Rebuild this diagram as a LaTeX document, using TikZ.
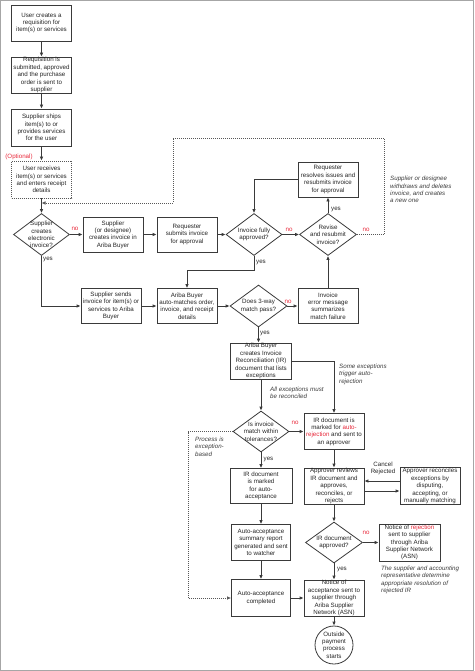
\documentclass[tikz,border=0pt]{standalone}
\usepackage{fontspec}
\setmainfont{Liberation Sans}
\usetikzlibrary{arrows.meta,shapes.geometric,calc}
\definecolor{linec}{HTML}{3A3A3A}
\definecolor{txtc}{HTML}{262626}
\definecolor{redc}{HTML}{E8283A}
\definecolor{notec}{HTML}{3C3C3C}
\begin{document}
\begin{tikzpicture}[x=1pt,y=-1pt,
 every node/.style={font=\fontsize{6.2}{7.4}\selectfont, text=txtc},
 box/.style={draw=linec, line width=0.8pt, fill=white, rectangle, minimum width=60pt, minimum height=36pt, inner sep=0pt},
 dbox/.style={box, draw=linec!85, dash pattern=on 0.8pt off 1.2pt},
 dia/.style={draw=linec, line width=0.8pt, fill=white, diamond, minimum width=56pt, minimum height=42pt, inner sep=0pt},
 circ/.style={draw=linec, line width=0.8pt, fill=white, circle, minimum size=38pt, inner sep=0pt},
 t/.style={align=center, inner sep=0pt},
 arr/.style={draw=linec, line width=0.8pt, -{Latex[length=4pt,width=3.6pt]}},
 dotarr/.style={draw=linec!85, line width=0.7pt, dash pattern=on 0.8pt off 1.2pt, -{Latex[length=4pt,width=3.6pt]}},
 rtag/.style={text=redc, inner sep=0pt},
 ytag/.style={inner sep=0pt},
 note/.style={font=\fontsize{6.2}{7.4}\selectfont\itshape, align=left, anchor=west, inner sep=0pt, text=notec}
]
\useasboundingbox (0,0) rectangle (474,671);
\draw[gray!70, line width=0.6pt] (0.5,0.5) rectangle (473.5,670.5);

% column 1
\node[box, label={[t]center:{User creates a\\requisition for\\item(s) or services}}] (b1) at (41.5,23) {};
\node[box, label={[t]center:{Requisition is\\submitted, approved\\and the purchase\\order is sent to\\supplier}}] (b2) at (41.5,75) {};
\node[box, minimum height=37pt, label={[t]center:{Supplier ships\\item(s) to or\\provides services\\for the user}}] (b3) at (41.5,127.5) {};
\node[dbox, minimum height=37pt, label={[t]center:{User receives\\item(s) or services\\and enters receipt\\details}}] (b4) at (41.5,179.5) {};
\node[rtag] (opt) at (19,157) {(Optional)};
\node[dia, label={[t]center:{Supplier\\creates\\electronic\\invoice?}}] (d1) at (41.5,234.5) {};
\coordinate (j1) at (41.5,203);

% row 2
\node[box, minimum height=35pt, label={[t]center:{Supplier\\(or designee)\\creates invoice in\\Ariba Buyer}}] (s1) at (113,234.5) {};
\node[box, minimum height=35pt, label={[t]center:{Requester\\submits invoice\\for approval}}] (s2) at (187,234.5) {};
\node[dia, label={[t]center:{Invoice fully\\approved?}}] (d2) at (254,234.5) {};
\node[dia, minimum width=57pt, label={[t]center:{Revise\\and resubmit\\invoice?}}] (d3) at (328,234.5) {};
\node[box, minimum height=35pt, label={[t]center:{Requester\\resolves issues and\\resubmits invoice\\for approval}}] (res) at (328,179.5) {};

% row 3
\node[box, minimum height=35pt, label={[t]center:{Supplier sends\\invoice for item(s) or\\services to Ariba\\Buyer}}] (ss) at (111,306) {};
\node[box, minimum height=35pt, label={[t]center:{Ariba Buyer\\auto-matches order,\\invoice, and receipt\\details}}] (am) at (187,306) {};
\node[dia, minimum width=57pt, label={[t]center:{Does 3-way\\match pass?}}] (d4) at (258.5,306) {};
\node[box, minimum height=35pt, label={[t]center:{Invoice\\error message\\summarizes\\match failure}}] (err) at (328,306) {};

% IR part
\node[box, minimum width=61pt, label={[t]center:{Ariba Buyer\\creates Invoice\\Reconciliation (IR)\\document that lists\\exceptions}}] (ir) at (261,361) {};
\node[dia, minimum height=41pt, label={[t]center:{Is invoice\\match within\\tolerances?}}] (d5) at (261,431.5) {};
\node[box, label={[t]center:{IR document is\\marked for \textcolor{redc}{auto-}\\\textcolor{redc}{rejection} and sent to\\an approver}}] (arej) at (334,431.5) {};
\node[box, minimum width=62pt, minimum height=35pt, label={[t]center:{IR document\\is marked\\for auto-\\acceptance}}] (aacc) at (261,486) {};
\node[box, label={[t]center:{Approver reviews\\IR document and\\approves,\\reconciles, or\\rejects}}] (appr) at (334,486) {};
\node[box, minimum height=37pt, label={[t]center:{Approver reconciles\\exceptions by\\disputing,\\accepting, or\\manually matching}}] (recon) at (430,486) {};
\node[box, minimum width=59pt, label={[t]center:{Auto-acceptance\\summary report\\generated and sent\\to watcher}}] (summ) at (261,542.5) {};
\node[dia, minimum width=57pt, minimum height=41pt, label={[t]center:{IR document\\approved?}}] (d6) at (334,542.5) {};
\node[box, minimum width=61pt, minimum height=37pt, label={[t]center:{Notice of \textcolor{redc}{rejection}\\sent to supplier\\through Ariba\\Supplier Network\\(ASN)}}] (nrej) at (409.5,542.5) {};
\node[box, minimum width=59pt, minimum height=37pt, label={[t]center:{Auto-acceptance\\completed}}] (comp) at (261,598) {};
\node[box, label={[t]center:{Notice of\\acceptance sent to\\supplier through\\Ariba Supplier\\Network (ASN)}}] (nacc) at (334,598) {};
\node[circ, label={[t]center:{Outside\\payment\\process\\starts}}] (end) at (334,645) {};

% helper coordinates
\coordinate (k1) at (384,138);
\coordinate (k2) at (173,203);
\coordinate (k3) at (188,500);

% connectors
\draw[arr] (b1.south) -- (b2.north);
\draw[arr] (b2.south) -- (b3.north);
\draw[arr] (b3.south) -- (b4.north);
\draw[arr] (b4.south) -- (d1.north);
\draw[arr] (d1.east) -- (s1.west);
\draw[arr] (s1.east) -- (s2.west);
\draw[arr] (s2.east) -- (d2.west);
\draw[arr] (d2.east) -- (d3.west);
\draw[arr] (d3.north) -- (res.south);
\draw[arr] (res.west) -| (d2.north);
\draw[dotarr] (d3.east) -| (k1) -| (k2) -- (j1);
\draw[arr] (d2.south) -- ++(0,14) -| (am.north);
\draw[arr] (d1.south) |- (ss.west);
\draw[arr] (ss.east) -- (am.west);
\draw[arr] (am.east) -- (d4.west);
\draw[arr] (d4.east) -- (err.west);
\draw[arr] (err.north) -- (d3.south);
\draw[arr] (d4.south) -- (d4.south |- ir.north);
\draw[arr] (ir.east) -| (arej.north);
\draw[arr] (ir.south) -- (d5.north);
\draw[arr] (d5.east) -- (arej.west);
\draw[arr] (d5.south) -- (aacc.north);
\draw[arr] (arej.south) -- (appr.north);
\draw[arr] ($(recon.west)+(0,-5)$) -- ($(appr.east)+(0,-5)$);
\draw[arr] ($(appr.east)+(0,5)$) -- ($(recon.west)+(0,5)$);
\draw[arr] (appr.south) -- (d6.north);
\draw[arr] (d6.east) -- (nrej.west);
\draw[arr] (d6.south) -- (nacc.north);
\draw[arr] (aacc.south) -- (summ.north);
\draw[arr] (summ.south) -- (comp.north);
\draw[arr] (comp.east) -- (nacc.west);
\draw[arr] (nacc.south) -- (end.north);
\draw[dotarr] (d5.west) -| (k3) |- (comp.west);

% branch tags
\node[rtag] (n1) at (75,229) {no};
\node[ytag] (y1) at (48,259) {yes};
\node[rtag] (n2) at (289,230) {no};
\node[ytag] (y2) at (261,262.5) {yes};
\node[rtag] (n3) at (366,230) {no};
\node[ytag] (y3) at (336,209) {yes};
\node[rtag] (n4) at (288,302) {no};
\node[ytag] (y4) at (265,333) {yes};
\node[rtag] (n5) at (295,423) {no};
\node[ytag] (y5) at (268.5,459) {yes};
\node[rtag] (n6) at (366,533) {no};
\node[ytag] (y6) at (342,569) {yes};

% notes
\node[note] (nt1) at (390,189.5) {Supplier or designee\\withdraws and deletes\\invoice, and creates\\a new one};
\node[note] (nt2) at (339,374) {Some exceptions\\trigger auto-\\rejection};
\node[note] (nt3) at (270,393) {All exceptions must\\be reconciled};
\node[note] (nt4) at (195,446.5) {Process is\\exception-\\based};
\node[note] (nt5) at (381,580) {The supplier and accounting\\representative determine\\appropriate resolution of\\rejected IR};
\node[t] (cr) at (383,468.5) {Cancel\\Rejected};
\end{tikzpicture}
\end{document}
